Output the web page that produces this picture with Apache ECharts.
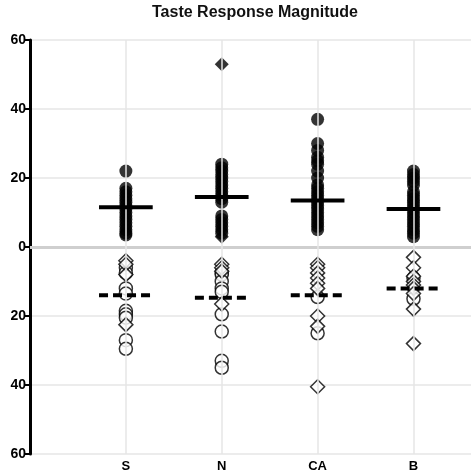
<!DOCTYPE html>
<html><head><meta charset="utf-8">
<script src="https://cdn.jsdelivr.net/npm/echarts@6/dist/echarts.min.js"></script>
<style>html,body{margin:0;padding:0;background:#fff}#main{width:474px;height:474px}</style>
</head><body><div id="main"></div>
<script>
var categories = ['S', 'N', 'CA', 'B']
var yTicks = [-60, -40, -20, 0, 20, 40, 60]

// positive responses (filled)
var upCircles = [
	[22, 17, 16, 15, 14, 13, 12, 11, 10, 9, 8, 7, 6, 5, 4, 3.5],
	[24, 23, 22, 21, 20, 19, 18, 17, 16, 15, 14, 13, 9, 8, 7, 6, 5, 4],
	[37, 30, 28, 26, 25, 24, 22, 20, 18, 17, 16, 15, 14, 13, 12, 11, 10, 9, 8, 7, 6, 5],
	[22, 21, 20, 19, 18, 16, 15, 14, 13, 12, 11, 10, 9, 8, 7, 6, 5, 4, 3]
]
var upDiamonds = [[], [53, 3], [], []]
var upMeans = [11.5, 14.5, 13.5, 11]

// negative responses (open)
var downCircles = [
	[-6, -7.5, -12, -13.5, -18.5, -19.5, -20.5, -27, -29.5],
	[-7.5, -8, -10, -12, -13, -19.5, -24.5, -33, -35],
	[-14.5, -25],
	[-9, -15]
]
var downDiamonds = [
	[-4, -5, -8, -22.5],
	[-5, -6, -7, -16.5],
	[-5, -6, -7.5, -9, -10.5, -12, -20, -23, -40.5],
	[-3, -6, -8.5, -10, -11, -12, -13.5, -18, -28]
]
var downMeans = [-14, -14.7, -14, -12]

function pts(groups) {
	var out = []
	groups.forEach(function (g, i) { g.forEach(function (v) { out.push([i + 1, v]) }) })
	return out
}
function meanLine(m, i, dashed) {
	return {
		type: 'line', symbol: 'none', silent: true, z: 5,
		data: [[i + 1 - 0.28, m], [i + 1 + 0.28, m]],
		lineStyle: { color: '#000', width: 4, type: dashed ? [9, 5] : 'solid' }
	}
}

var myChart = echarts.init(document.getElementById('main'))
var series = [
	{ type: 'scatter', data: pts(upCircles), symbol: 'circle', symbolSize: 13,
		itemStyle: { color: '#000' } },
	{ type: 'scatter', data: pts(upDiamonds), symbol: 'diamond', symbolSize: 14,
		itemStyle: { color: '#000' } },
	{ type: 'scatter', data: pts(downCircles), symbol: 'circle', symbolSize: 13,
		itemStyle: { color: '#fff', borderColor: '#000', borderWidth: 1.5 } },
	{ type: 'scatter', data: pts(downDiamonds), symbol: 'diamond', symbolSize: 14,
		itemStyle: { color: '#fff', borderColor: '#000', borderWidth: 1.5 } }
]
upMeans.forEach(function (m, i) { series.push(meanLine(m, i, false)) })
downMeans.forEach(function (m, i) { series.push(meanLine(m, i, true)) })

// zero line
series.push({
	type: 'line', symbol: 'none', silent: true, data: [],
	markLine: { symbol: 'none', silent: true, label: { show: false },
		lineStyle: { color: '#cfcfcf', width: 3, type: 'solid' }, data: [{ yAxis: 0 }] }
})
// vertical gridlines at category centres
series.push({
	type: 'line', symbol: 'none', silent: true, data: [],
	markLine: { symbol: 'none', silent: true, label: { show: false },
		lineStyle: { color: '#e6e6e6', width: 1.5, type: 'solid' },
		data: categories.map(function (c, i) { return { xAxis: i + 1 } }) }
})

var option = {
	animation: false,
	title: {
		text: 'Taste Response Magnitude', left: 250, top: 0, textAlign: 'center',
		textStyle: { fontFamily: 'Liberation Sans', fontSize: 16, fontWeight: 'bold', color: '#111' }
	},
	grid: { left: 30, right: 0, top: 40, bottom: 20 },
	xAxis: {
		type: 'value', min: 0, max: 4.6, interval: 1,
		axisLine: { show: false }, axisTick: { show: false }, splitLine: { show: false },
		axisLabel: {
			fontFamily: 'Liberation Sans', fontSize: 13, fontWeight: 'bold', color: '#000', margin: 6,
			formatter: function (v) { return categories[Math.round(v) - 1] || '' }
		}
	},
	yAxis: {
		type: 'value', min: yTicks[0], max: yTicks[yTicks.length - 1], interval: 20,
		axisLine: { show: true, lineStyle: { color: '#000', width: 3 } },
		axisTick: { show: true, length: 5, lineStyle: { color: '#000', width: 2 } },
		splitLine: { lineStyle: { color: '#e6e6e6', width: 1.5 } },
		axisLabel: {
			fontFamily: 'Liberation Sans', fontSize: 14, fontWeight: 'bold', color: '#000', margin: 4,
			formatter: function (v) { return String(Math.abs(v)) }
		}
	},
	series: series
}
myChart.setOption(option)
</script></body></html>
